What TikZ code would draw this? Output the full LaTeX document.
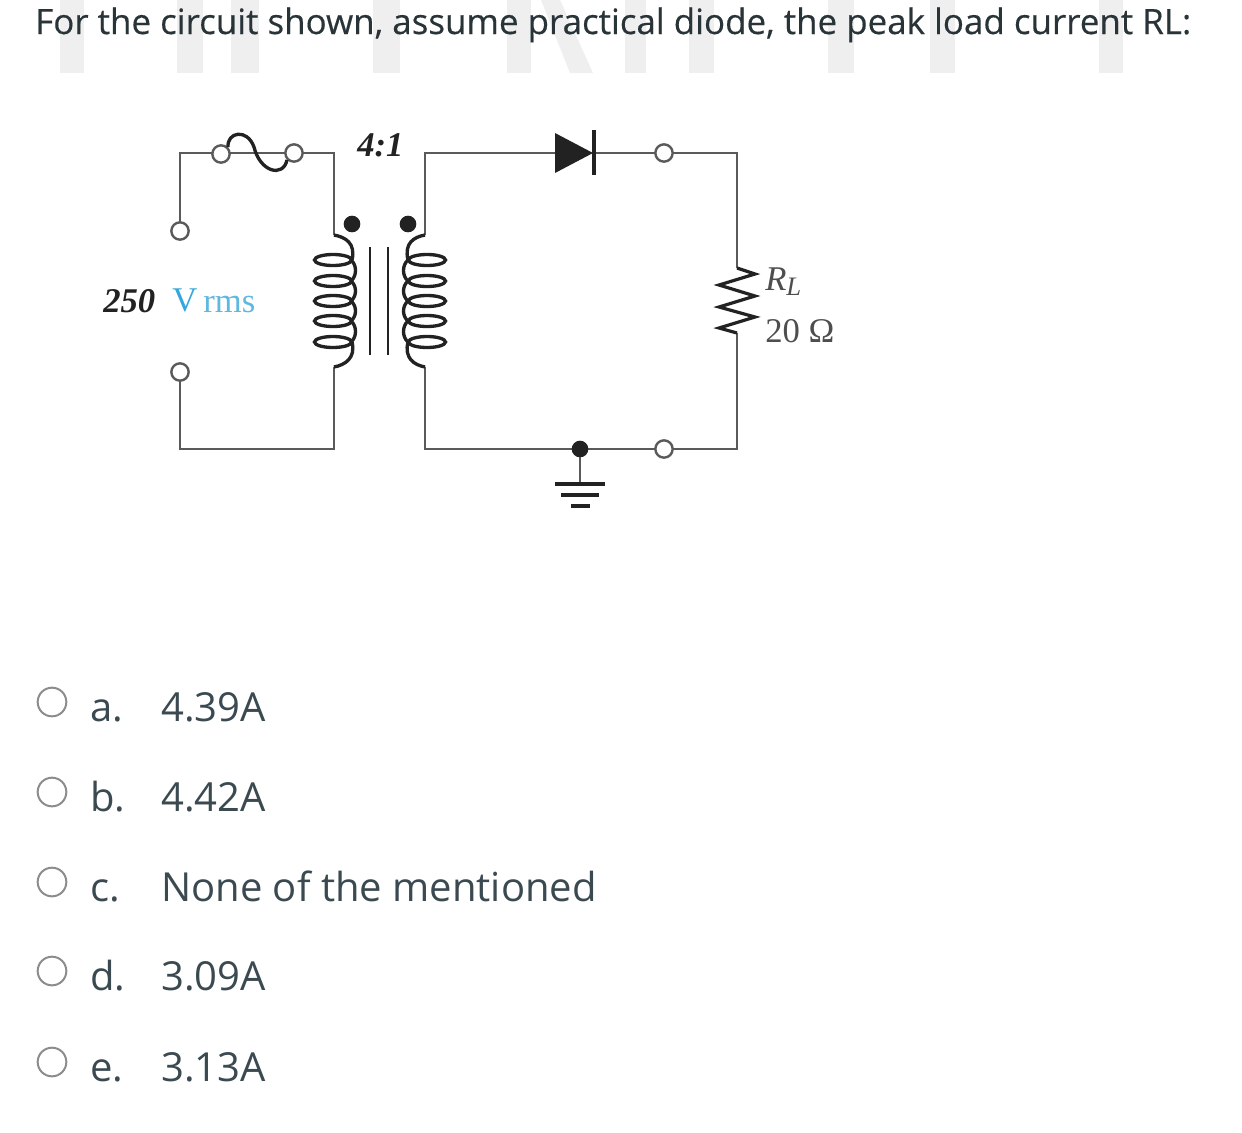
\documentclass[tikz,border=0pt]{standalone}
\usepackage{fontspec}
\setmainfont{Liberation Serif}
\newfontfamily\qfont{Open Sans}
\newfontfamily\tfont{Open Sans}[FakeBold=0.35]
\definecolor{wire}{HTML}{5A5A5A}
\definecolor{ink}{HTML}{222222}
\definecolor{qtext}{HTML}{3A4A50}
\definecolor{vblue}{HTML}{35A7DC}
\definecolor{rmsblue}{HTML}{5FB8DE}
\definecolor{bar}{HTML}{EFEFEF}
\tikzset{
  wire/.style={draw=wire,line width=2.1pt,line join=miter},
  term/.style={circle,draw=wire,fill=white,line width=1.8pt,minimum size=13pt,inner sep=0pt},
  dotn/.style={circle,fill=ink,minimum size=12.5pt,inner sep=0pt},
  coil/.style={draw=ink,line width=2.5pt},
  core/.style={draw=ink,line width=2.1pt},
  radio/.style={circle,draw=black!45,fill=white,line width=1.5pt,minimum size=21.5pt,inner sep=0pt},
  ser/.style={inner sep=0pt,anchor=base west,font=\fontsize{26}{28}\selectfont},
  bit/.style={ser,text=ink,font=\fontsize{26}{28}\selectfont\bfseries\itshape},
  title/.style={inner sep=0pt,anchor=base west,text=qtext!70!black,font=\tfont\fontsize{26.2}{30}\selectfont},
  opt/.style={inner sep=0pt,anchor=base west,text=qtext,font=\qfont\fontsize{30}{32}\selectfont},
}
\begin{document}
\begin{tikzpicture}[x=0.75pt,y=-0.75pt]
\useasboundingbox (0,0) rectangle (1242,1132);
% watermark bars
\foreach \a/\b in {60/84,177/203,231/259,373/400,507/531,625/646,689/714,828/854,930/955,1099/1123}
  \fill[bar] (\a,0) rectangle (\b,73);
\fill[bar] (541,0) -- (560,0) -- (593,73) -- (570,73) -- cycle;
\node[title] (q) at (35,34) {For the circuit shown, assume practical diode, the peak load current RL:};
% nodes
\coordinate (tl) at (180,153);
\coordinate (tr) at (334,153);
\coordinate (bl) at (180,449);
\coordinate (br) at (334,449);
\coordinate (pt) at (334,235);
\coordinate (pb) at (334,367);
\coordinate (st) at (425,235);
\coordinate (sb) at (425,367);
\coordinate (s1) at (425,153);
\coordinate (s2) at (425,449);
\coordinate (cr) at (737,153);
\coordinate (dr) at (737,449);
\coordinate (rt) at (737,268);
\coordinate (rb) at (737,333);
\coordinate (da) at (555,153);
\coordinate (dk) at (594,153);
\coordinate (g0) at (580,484);
% wires
\draw[wire] (pt) -- (tr) -- (tl) -- (180,231);
\draw[wire] (180,372) -- (bl) -- (br) -- (pb);
\draw[wire] (st) -- (s1) -- (da);
\draw[wire] (dk) -- (cr) -- (rt);
\draw[wire] (rb) -- (dr) -- (s2) -- (sb);
\draw[wire] (580,449) -- (g0);
% terminals
\node[term] (t1) at (180,231) {};
\node[term] (t2) at (180,372) {};
\node[term] (f1) at (221,154) {};
\node[term] (f2) at (294,153) {};
\node[term] (o1) at (664,153) {};
\node[term] (o2) at (664,449) {};
\node[dotn] (j) at (580,449) {};
\node[dotn] (d1) at (352,224) {};
\node[dotn] (d2) at (408,224) {};
% fuse
\draw[coil] (f1.north east) .. controls (227,132) and (247,128) .. (254,147) .. controls (260,172) and (283,178) .. (f2.south west);
% primary coil
\foreach \y in {260,281,301,321,342}
  \draw[coil] (333,\y) ellipse [x radius=18.5,y radius=5.5];
\draw[coil] (pt) .. controls (345,237) and (356,243) .. (352,260);
\foreach \a/\b in {260/281,281/301,301/321,321/342}
  \draw[coil] (351,\a) .. controls (357,\a+5) and (357,\b-5) .. (351,\b);
\draw[coil] (352,342) .. controls (356,358) and (345,365) .. (pb);
% secondary coil
\foreach \y in {260,281,301,321,342}
  \draw[coil] (427,\y) ellipse [x radius=18.5,y radius=5.5];
\draw[coil] (st) .. controls (414,237) and (404,243) .. (408,260);
\foreach \a/\b in {260/281,281/301,301/321,321/342}
  \draw[coil] (408,\a) .. controls (402,\a+5) and (402,\b-5) .. (408,\b);
\draw[coil] (408,342) .. controls (404,358) and (414,365) .. (sb);
% core
\draw[core] (370,247) -- (370,355);
\draw[core] (388,247) -- (388,355);
% diode
\fill[ink] (555,133) -- (593,153) -- (555,173) -- cycle;
\draw[ink,line width=2.6pt] (594,130) -- (594,175);
% resistor
\draw[draw=ink,line width=2.4pt,line join=miter] (rt) -- (755,274) -- (719,285) -- (755,296) -- (719,307) -- (755,317) -- (719,328) -- (rb);
% ground
\draw[ink,line width=3pt] (555,484) -- (605,484);
\draw[ink,line width=3pt] (561,495) -- (599,495);
\draw[ink,line width=3pt] (571,506) -- (590,506);
% labels
\node[bit] (v1) at (103,312) {250};
\node[ser,text=vblue] (v2) at (172,311) {V};
\node[ser,text=rmsblue] (v3) at (203,312) {rms};
\node[bit] (n) at (357,156) {4:1};
\node[ser,text=ink!80] (rl) at (765,290) {\textit{R}\raisebox{-4pt}{\fontsize{20}{22}\selectfont\textit{L}}};
\node[ser,text=ink!80] (rv) at (765,342) {20 Ω};
% options
\foreach \nm/\y/\l/\v in {a/702/a./4.39A,b/792/b./4.42A,c/882/c./None of the mentioned,d/971/d./3.09A,e/1062/e./3.13A}{
  \node[radio] (r\nm) at (52,\y) {};
  \node[opt] (l\nm) at (90,\y+19) {\l};
  \node[opt] (v\nm) at (161,\y+19) {\v};
}
\end{tikzpicture}
\end{document}
